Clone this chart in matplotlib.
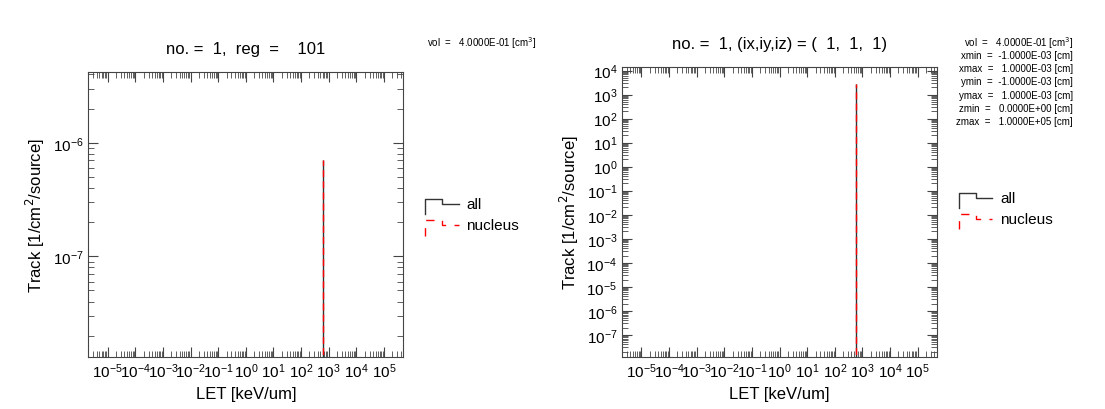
import matplotlib.pyplot as plt
from matplotlib.lines import Line2D
from matplotlib.ticker import LogLocator, NullFormatter

# histogram peak for each panel (LET bin centre, value)
let_peak = [6.0e2, 6.0e2]
all_peak = [7.0e-7, 2.8e3]
nucleus_peak = [7.0e-7, 2.8e3]
ylims = [(1.3e-8, 4.2e-6), (1.2e-8, 1.4e4)]
titles = ["no. =  1,  reg  =    101", "no. =  1, (ix,iy,iz) = (  1,  1,  1)"]
info = [
    ["vol  =   4.0000E-01 [cm$^3$]"],
    ["vol  =   4.0000E-01 [cm$^3$]",
     "xmin  =  -1.0000E-03 [cm]",
     "xmax  =   1.0000E-03 [cm]",
     "ymin  =  -1.0000E-03 [cm]",
     "ymax  =   1.0000E-03 [cm]",
     "zmin  =   0.0000E+00 [cm]",
     "zmax  =   1.0000E+05 [cm]"],
]

plt.rcParams['font.family'] = ['Liberation Sans', 'DejaVu Sans']
fig = plt.figure(figsize=(11.05, 4.1), dpi=100)
rects = [[0.080, 0.127, 0.285, 0.695], [0.563, 0.127, 0.285, 0.707]]

for i in range(2):
    ax = fig.add_axes(rects[i])
    ax.set_xscale('log')
    ax.set_yscale('log')
    ax.vlines(let_peak[i], 1e-20, all_peak[i], color='#333333', lw=1)
    ax.vlines(let_peak[i], 1e-20, nucleus_peak[i], color='red', lw=1, linestyles=(0, (5, 3)))
    ax.set_xlim(10**-5.7, 10**5.7)
    ax.set_ylim(*ylims[i])
    ax.xaxis.set_major_locator(LogLocator(base=10, numticks=20))
    ax.xaxis.set_minor_locator(LogLocator(base=10, subs=range(2, 10), numticks=20))
    ax.yaxis.set_major_locator(LogLocator(base=10, numticks=20))
    ax.yaxis.set_minor_locator(LogLocator(base=10, subs=range(2, 10), numticks=20))
    ax.yaxis.set_minor_formatter(NullFormatter())
    ax.tick_params(which='both', direction='in', top=True, right=True, labelsize=11, color='#444444')
    ax.tick_params(which='major', length=7)
    ax.tick_params(which='minor', length=4)
    for s in ax.spines.values():
        s.set_color('#444444')
    ax.set_xlabel('LET [keV/um]', fontsize=12)
    ax.set_ylabel('Track [1/cm$^2$/source]', fontsize=12)
    ax.set_title(titles[i], fontsize=12, pad=14)

    # info block at top right
    x_info = rects[i][0] + rects[i][2] + (0.120 if i == 0 else 0.123)
    for k, line in enumerate(info[i]):
        fig.text(x_info, 0.895 - k * 0.032, line, fontsize=7, ha='right', va='center')

    # legend with step-shaped handles
    lx = rects[i][0] + rects[i][2] + 0.020
    ly = 0.50 if i == 0 else 0.515
    for k, (lab, col, ls) in enumerate([('all', '#333333', '-'), ('nucleus', 'red', (0, (6, 6)))]):
        y = ly - k * 0.052
        fig.add_artist(Line2D([lx, lx, lx + 0.015, lx + 0.015, lx + 0.030],
                              [y - 0.025, y + 0.012, y + 0.012, y, y],
                              color=col, lw=1, ls=ls, transform=fig.transFigure))
        fig.text(lx + 0.037, y, lab, fontsize=11, va='center')

fig.savefig('out.png', dpi=100)
